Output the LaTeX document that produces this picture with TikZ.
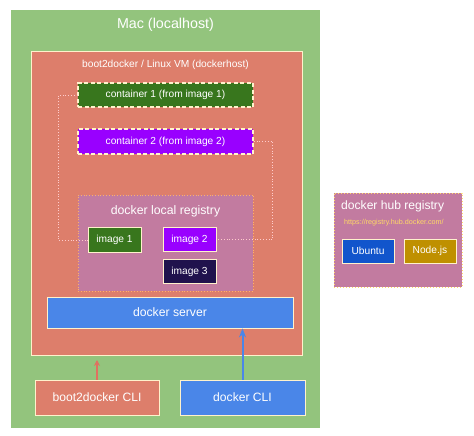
\documentclass[tikz,border=0pt]{standalone}
\usepackage{fontspec}
\setmainfont{Liberation Sans}
\usetikzlibrary{arrows.meta,calc}
\definecolor{macgreen}{HTML}{93C47D}
\definecolor{vmred}{HTML}{DD7E6B}
\definecolor{regmauve}{HTML}{C27BA0}
\definecolor{srvblue}{HTML}{4A86E8}
\definecolor{imggreen}{HTML}{38761D}
\definecolor{imgpurple}{HTML}{9900FF}
\definecolor{imgnavy}{HTML}{20124D}
\definecolor{ubublue}{HTML}{1155CC}
\definecolor{nodegold}{HTML}{BF9000}
\definecolor{cream}{HTML}{FFF2CC}
\definecolor{urlgold}{HTML}{FFD966}
\tikzset{
  box/.style={rectangle,inner sep=0pt,text=white,font=\fontsize{10.2}{12}\selectfont},
  cont/.style={box,draw=cream,line width=1.4pt,dash pattern=on 4pt off 2.5pt},
  img/.style={box,draw=cream,line width=0.8pt,minimum width=53pt,minimum height=24.5pt},
  link/.style={draw=red!20,line width=0.8pt,dotted}
}

\begin{document}
\begin{tikzpicture}[x=1pt,y=-1pt]
\useasboundingbox (0,0) rectangle (474,436);
\node[box,fill=macgreen,minimum width=309pt,minimum height=418pt] (mac) at (165.5,219) {};
\node[box,font=\fontsize{14.3}{16}\selectfont] (mactitle) at (165.5,25) {Mac (localhost)};
\node[box,fill=vmred,draw=cream,line width=0.8pt,minimum width=271pt,minimum height=304pt] (vm) at (166.5,203) {};
\node[box] (vmtitle) at (165.5,65) {boot2docker / Linux VM (dockerhost)};

\node[cont,fill=imggreen,minimum width=175pt,minimum height=24pt] (c1) at (165.5,95) {container 1 (from image 1)};
\node[cont,fill=imgpurple,minimum width=175pt,minimum height=25pt] (c2) at (165.5,141.5) {container 2 (from image 2)};

\node[box,fill=regmauve,draw=orange!60,line width=0.8pt,dotted,minimum width=175pt,minimum height=96pt] (reg) at (165.5,243) {};
\node[box,font=\fontsize{12.3}{14}\selectfont] (regtitle) at (165.5,211) {docker local registry};
\node[img,fill=imggreen] (img1) at (114.5,240) {image 1};
\node[img,fill=imgpurple] (img2) at (189.5,239.5) {image 2};
\node[img,fill=imgnavy] (img3) at (189.5,271.5) {image 3};

\draw[link] (c1.west) -- ++(-19,0) |- (img1.west);
\draw[link] (c2.east) -- ++(19,0) |- (img2.east);

\node[box,fill=srvblue,draw=cream,line width=0.8pt,minimum width=246pt,minimum height=31pt,font=\fontsize{12.2}{14}\selectfont] (srv) at (170,312.5) {docker server};

\node[box,fill=vmred,draw=cream,line width=0.8pt,minimum width=124pt,minimum height=35pt,font=\fontsize{12.1}{14}\selectfont] (b2d) at (97,397.5) {boot2docker CLI};
\node[box,fill=srvblue,draw=cream,line width=0.8pt,minimum width=125pt,minimum height=35pt,font=\fontsize{12.1}{14}\selectfont] (dcli) at (242.5,397.5) {docker CLI};
\coordinate (b2dtip) at (97,360);

\draw[vmred!90!red,line width=1.6pt,-{Stealth[length=6pt,width=6pt]}] (b2d.north) -- (b2dtip);
\draw[srvblue,line width=2pt,-{Stealth[length=9pt,width=7pt]}] (dcli.north) -- (dcli.north |- srv.south);

\node[box,fill=regmauve,draw=urlgold,line width=1pt,dotted,minimum width=128pt,minimum height=94pt] (hub) at (398,240) {};
\node[box,anchor=west,font=\fontsize{12.1}{14}\selectfont] (hubtitle) at (341,206) {docker hub registry};
\node[box,anchor=west,text=urlgold,font=\fontsize{7.2}{9}\selectfont] (huburl) at (344,223) {https://registry.hub.docker.com/};
\node[img,fill=ubublue,minimum width=52pt,minimum height=24pt] (ubuntu) at (368,251) {Ubuntu};
\node[img,fill=nodegold,minimum width=52pt,minimum height=24pt] (nodejs) at (430,251) {Node.js};

\end{tikzpicture}
\end{document}
